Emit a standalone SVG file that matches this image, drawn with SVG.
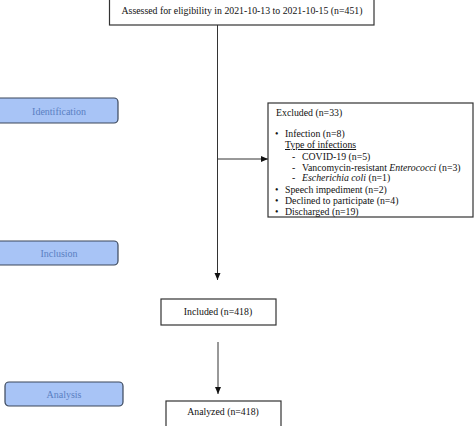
<svg xmlns="http://www.w3.org/2000/svg" width="474" height="426" viewBox="0 0 474 426">
<style>
.box{fill:#fff;stroke:#333;stroke-width:1.2}
.t{font-family:"Liberation Serif",serif;font-size:9.8px;fill:#111}
.lab{fill:#a8c4f6;stroke:#3b475a;stroke-width:1.2}
.lt{font-family:"Liberation Serif",serif;font-size:10px;fill:#5a7fc2;text-anchor:middle}
.ln{stroke:#333;stroke-width:1;fill:none}
</style>
<defs>
<marker id="ah" markerWidth="8" markerHeight="8" refX="7" refY="4" orient="auto" markerUnits="userSpaceOnUse">
<path d="M0,1 L7,4 L0,7 z" fill="#111"/>
</marker>
</defs>
<g id="connectors">
<line class="ln" x1="217.5" y1="25" x2="217.5" y2="280" marker-end="url(#ah)"/>
<line class="ln" x1="218" y1="159" x2="268" y2="159" marker-end="url(#ah)"/>
<line class="ln" x1="218" y1="342" x2="218" y2="394" marker-end="url(#ah)"/>
</g>
<g id="assessed">
<rect class="box" x="109.5" y="-2" width="264.5" height="27"/>
<text class="t" x="242" y="14" text-anchor="middle">Assessed for eligibility in 2021-10-13 to 2021-10-15 (n=451)</text>
</g>
<g id="excluded">
<rect class="box" x="268" y="103" width="205" height="114"/>
<text class="t" x="276" y="116">Excluded (n=33)</text>
<text class="t" x="275" y="137" font-size="11">•</text><text class="t" x="285" y="137">Infection (n=8)</text>
<text class="t" x="285" y="148" text-decoration="underline">Type of infections</text>
<text class="t" x="292" y="160">-</text><text class="t" x="302" y="160">COVID-19 (n=5)</text>
<text class="t" x="292" y="171">-</text><text class="t" x="302" y="171">Vancomycin-resistant <tspan font-style="italic">Enterococci</tspan> (n=3)</text>
<text class="t" x="292" y="181">-</text><text class="t" x="302" y="181"><tspan font-style="italic">Escherichia coli</tspan> (n=1)</text>
<text class="t" x="275" y="193" font-size="11">•</text><text class="t" x="285" y="193">Speech impediment (n=2)</text>
<text class="t" x="275" y="204" font-size="11">•</text><text class="t" x="285" y="204">Declined to participate (n=4)</text>
<text class="t" x="275" y="215" font-size="11">•</text><text class="t" x="285" y="215">Discharged (n=19)</text>
</g>
<g id="included">
<rect class="box" x="161" y="299" width="115" height="26"/>
<text class="t" x="218" y="315" text-anchor="middle">Included (n=418)</text>
</g>
<g id="analyzed">
<rect class="box" x="166" y="401" width="115" height="30"/>
<text class="t" x="223" y="415" text-anchor="middle">Analyzed (n=418)</text>
</g>
<g id="identification">
<rect class="lab" x="-4" y="98" width="122" height="25" rx="4"/>
<text class="lt" x="59" y="115">Identification</text>
</g>
<g id="inclusion">
<rect class="lab" x="-4" y="241" width="122" height="24" rx="4"/>
<text class="lt" x="59" y="257">Inclusion</text>
</g>
<g id="analysis">
<rect class="lab" x="5" y="382" width="118" height="24" rx="4"/>
<text class="lt" x="64" y="398">Analysis</text>
</g>
</svg>
